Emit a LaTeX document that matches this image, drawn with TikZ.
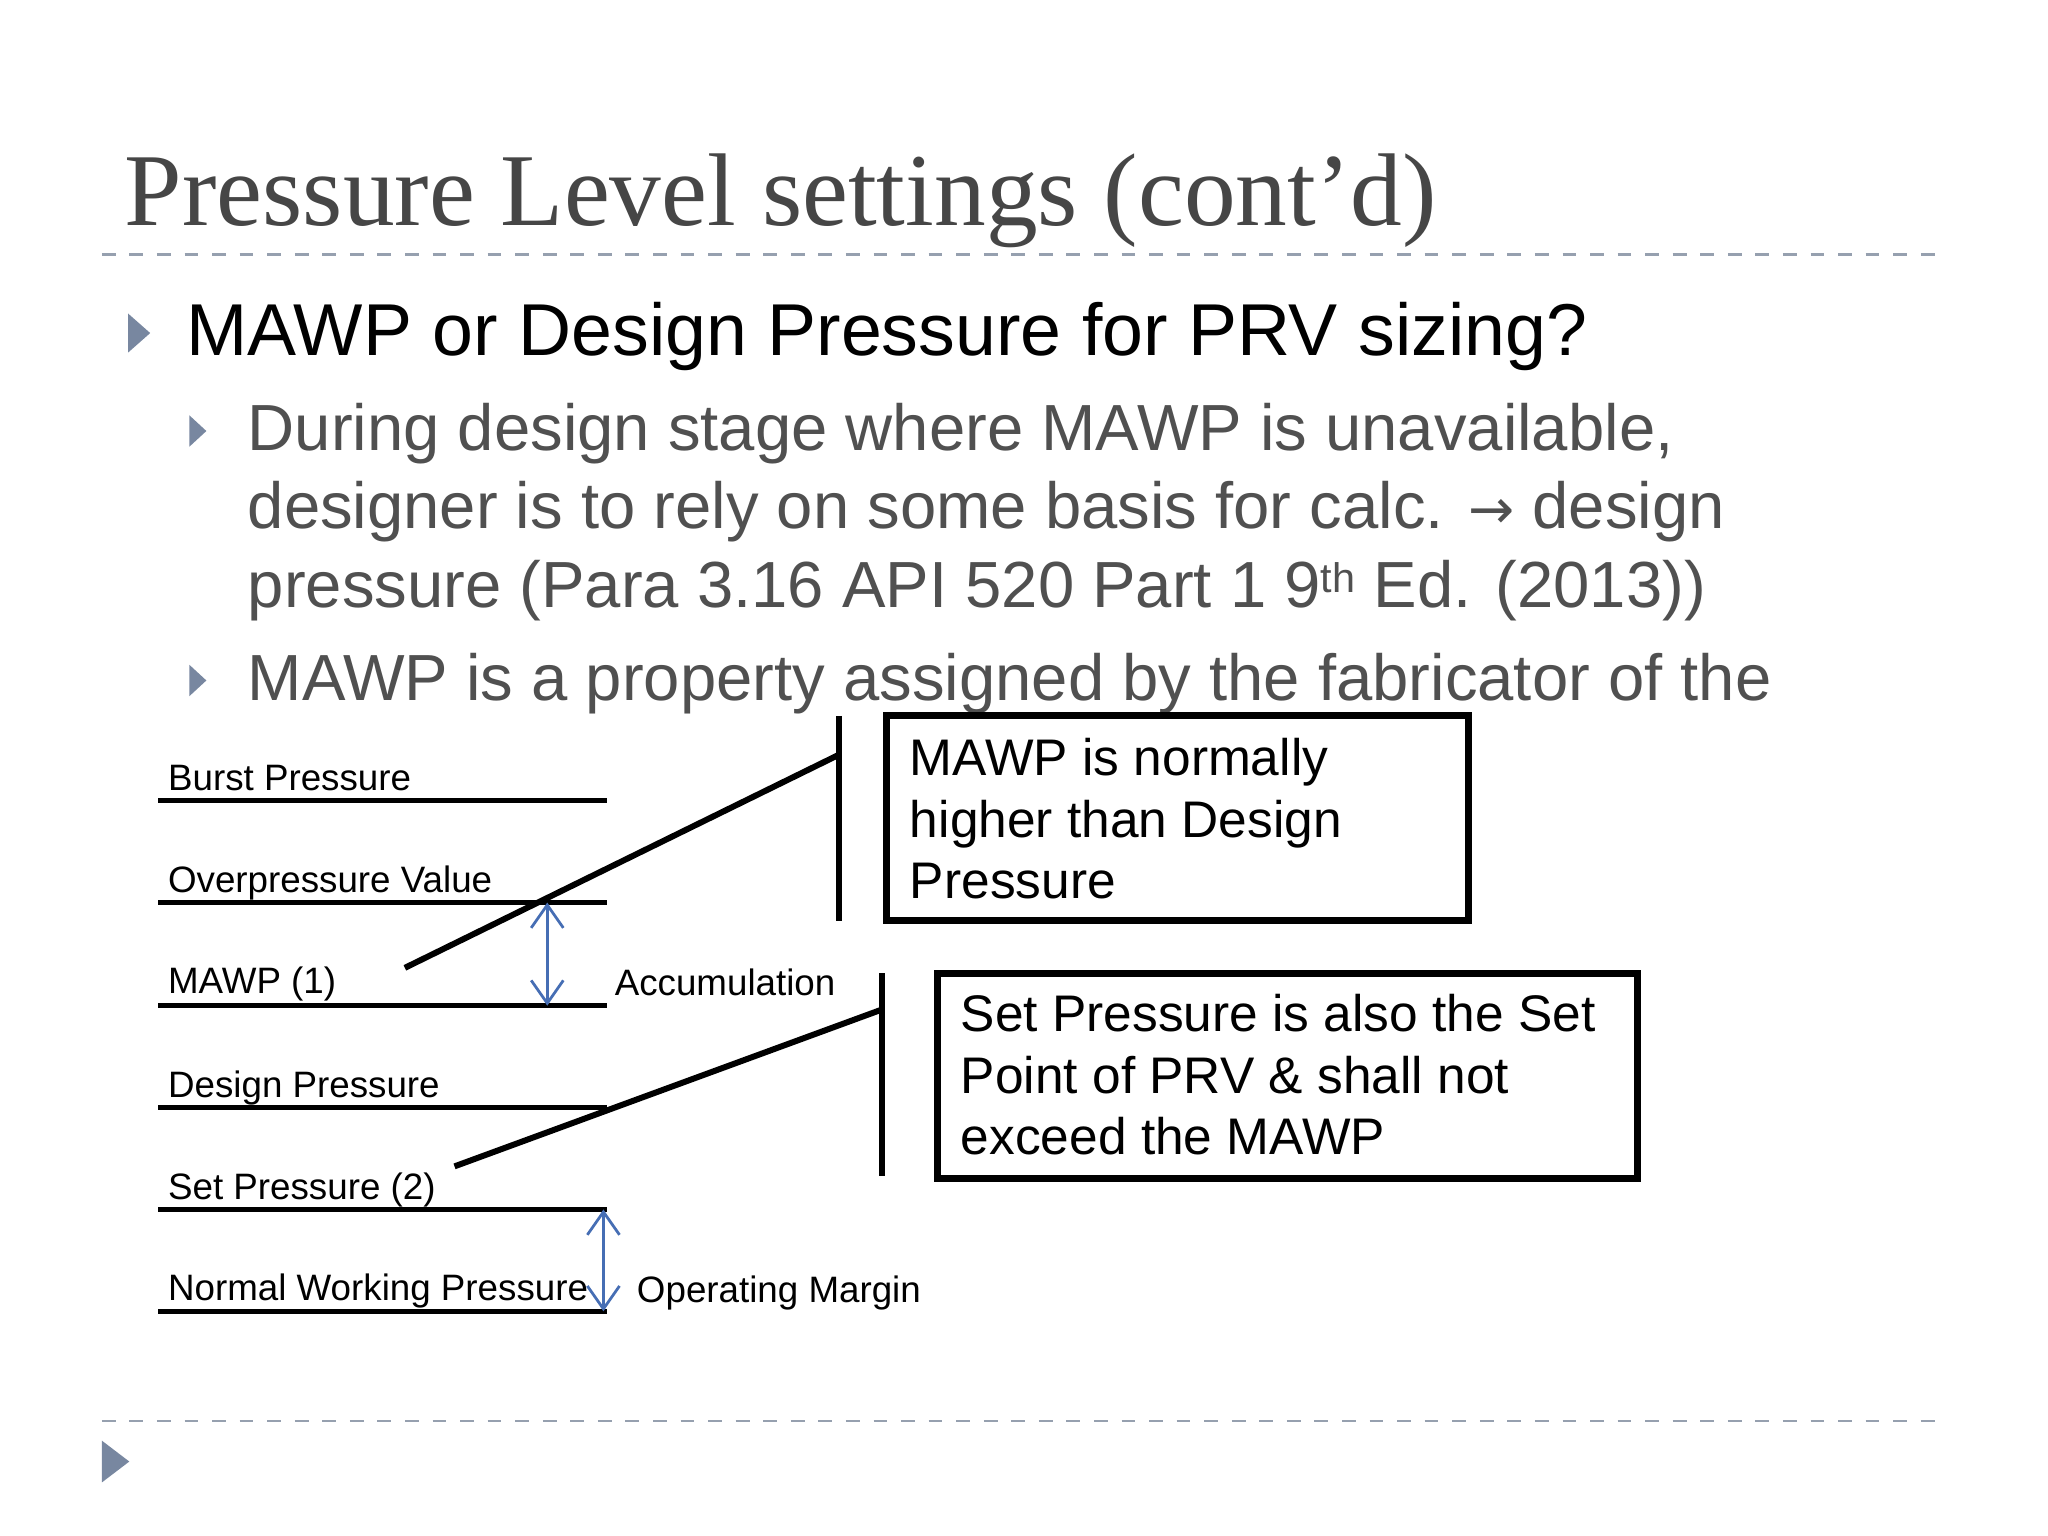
\documentclass[tikz,border=0pt]{standalone}
\usepackage{fontspec}
\setmainfont{Liberation Sans}
\newfontfamily\titlefont{Liberation Serif}
\usetikzlibrary{arrows.meta}
\definecolor{tgray}{RGB}{70,70,70}
\definecolor{sgray}{RGB}{80,80,80}
\definecolor{dashc}{RGB}{150,160,175}
\definecolor{bulc}{RGB}{120,135,160}
\definecolor{arrc}{RGB}{70,110,180}
\begin{document}
\begin{tikzpicture}[x=0.01cm,y=-0.01cm,
  lbl/.style={anchor=base west,inner sep=0,font=\fontsize{8}{10}\selectfont},
  sub/.style={anchor=base west,inner sep=0,text=sgray,font=\fontsize{14.2}{17}\selectfont},
  boxt/.style={anchor=base west,inner sep=0,font=\fontsize{11.2}{14}\selectfont},
  lvl/.style={line width=1pt},
  sepline/.style={dashc,dashed,line width=0.6pt},
  bul/.style={fill=bulc,draw=none},
  marr/.style={arrc,line width=0.6pt,{Straight Barb[length=5pt,width=7pt]}-{Straight Barb[length=5pt,width=7pt]}}]
\useasboundingbox[fill=white] (0,0) rectangle (1568,1176);
\node[anchor=base west,inner sep=0,text=tgray,font=\titlefont\fontsize{22.5}{26}\selectfont] (title) at (95,173) {Pressure Level settings (cont’d)};
\draw[sepline] (78,195) -- (1490,195);
\draw[sepline] (78,1088) -- (1490,1088);
\fill[bul] (98,240) -- (115,255) -- (98,270) -- cycle;
\fill[bul] (145,318) -- (158,330) -- (145,342) -- cycle;
\fill[bul] (145,509) -- (158,521) -- (145,533) -- cycle;
\fill[bul] (78,1103) -- (99,1119) -- (78,1135) -- cycle;
\node[anchor=base west,inner sep=0,font=\fontsize{16}{19}\selectfont] (b1) at (142,272) {MAWP or Design Pressure for PRV sizing?};
\node[sub] (s1) at (189,345) {During design stage where MAWP is unavailable,};
\node[sub] (s2) at (189,405) {designer is to rely on some basis for calc. {\fontspec{DejaVu Sans}\fontsize{12}{14}\selectfont →} design};
\node[sub] (s3) at (189,465) {pressure (Para 3.16 API 520 Part 1 9{\fontsize{9}{10}\selectfont\raisebox{0.7ex}{th}} Ed. (2013))};
\node[sub] (s4) at (189,536) {MAWP is a property assigned by the fabricator of the};
\node[lbl] (l1) at (128,605) {Burst Pressure};
\node[lbl] (l2) at (128,683) {Overpressure Value};
\node[lbl] (l3) at (128,761) {MAWP (1)};
\node[lbl] (l4) at (128,840) {Design Pressure};
\node[lbl] (l5) at (128,918) {Set Pressure (2)};
\node[lbl] (l6) at (128,996) {Normal Working Pressure};
\foreach \y in {613,691,770,848,926,1004} \draw[lvl] (121,\y) -- (465,\y);
\coordinate (a1) at (419,691); \coordinate (a2) at (419,770);
\draw[marr] (a1) -- (a2);
\node[lbl] (acc) at (470,762) {Accumulation};
\coordinate (o1) at (462,926); \coordinate (o2) at (462,1004);
\draw[marr] (o1) -- (o2);
\node[lbl] (opm) at (487,997) {Operating Margin};
\coordinate (p1) at (310,741); \coordinate (p2) at (642,578);
\coordinate (v1t) at (642,548); \coordinate (v1b) at (642,705);
\draw[lvl,line width=1.3pt] (p1) -- (p2);
\draw[lvl,line width=1.3pt] (v1t) -- (v1b);
\draw[line width=1.5pt] (679,548) rectangle (1124,705);
\node[boxt] (m1) at (696,594) {MAWP is normally};
\node[boxt] (m2) at (696,641) {higher than Design};
\node[boxt] (m3) at (696,688) {Pressure};
\coordinate (q1) at (348,893); \coordinate (q2) at (675,773);
\coordinate (v2t) at (675,745); \coordinate (v2b) at (675,900);
\draw[lvl,line width=1.3pt] (q1) -- (q2);
\draw[lvl,line width=1.3pt] (v2t) -- (v2b);
\draw[line width=1.5pt] (718,745) rectangle (1254,902);
\node[boxt] (n1) at (735,790) {Set Pressure is also the Set};
\node[boxt] (n2) at (735,837) {Point of PRV \& shall not};
\node[boxt] (n3) at (735,884) {exceed the MAWP};
\end{tikzpicture}
\end{document}
